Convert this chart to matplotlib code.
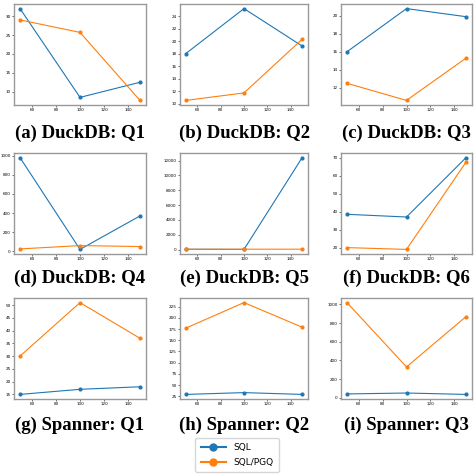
import matplotlib
matplotlib.use("Agg")
import matplotlib.pyplot as plt
from matplotlib.ticker import MultipleLocator
from matplotlib.lines import Line2D

x = [50, 100, 150]
titles = ["(a) DuckDB: Q1", "(b) DuckDB: Q2", "(c) DuckDB: Q3",
          "(d) DuckDB: Q4", "(e) DuckDB: Q5", "(f) DuckDB: Q6",
          "(g) Spanner: Q1", "(h) Spanner: Q2", "(i) Spanner: Q3"]
sql = [[32, 8.5, 12.5], [18, 25.2, 19.2], [16, 20.8, 19.9],
       [980, 20, 370], [50, 30, 12400], [38.5, 37, 70],
       [15, 17, 18], [29, 33, 29], [40, 50, 35]]
pgq = [[29, 25.7, 7.7], [10.5, 11.7, 20.3], [12.5, 10.6, 15.3],
       [25, 60, 50], [50, 60, 60], [20, 19, 67.5],
       [30, 51, 37], [177, 234, 179], [1020, 330, 870]]

fig = plt.figure(figsize=(4.74, 4.74), dpi=100)
W, H = 474, 474
lefts = [14, 180, 341]
widths = [132, 128, 131]
tops = [4, 153, 298]
ph = 101
title_y = [133, 278, 425]
for i in range(9):
    r, c = divmod(i, 3)
    ax = fig.add_axes([lefts[c] / W, 1 - (tops[r] + ph) / H, widths[c] / W, ph / H])
    ax.plot(x, sql[i], marker='o', ms=2, lw=0.8, color='#1f77b4')
    ax.plot(x, pgq[i], marker='o', ms=2, lw=0.8, color='#ff7f0e')
    ax.set_xticks([60, 80, 100, 120, 140])
    if i == 7:
        ax.yaxis.set_major_locator(MultipleLocator(25))
    ax.tick_params(labelsize=3, length=1.5, width=0.4, pad=1)
    for s in ax.spines.values():
        s.set_color('#999999')
        s.set_linewidth(1.0)
    fig.text((lefts[c] + widths[c] / 2) / W, 1 - title_y[r] / H, titles[i],
             ha='center', va='center', fontsize=13.5, fontweight='bold',
             family='Liberation Serif')

h1 = Line2D([], [], color='#1f77b4', marker='o', ms=5, lw=1.5)
h2 = Line2D([], [], color='#ff7f0e', marker='o', ms=5, lw=1.5)
fig.legend([h1, h2], ["SQL", "SQL/PGQ"], loc='center', bbox_to_anchor=(237 / W, 1 - 455 / H),
           fontsize=6.5, handlelength=2.8, frameon=True, borderpad=0.6, labelspacing=0.6)
fig.savefig("out.png", dpi=100)
